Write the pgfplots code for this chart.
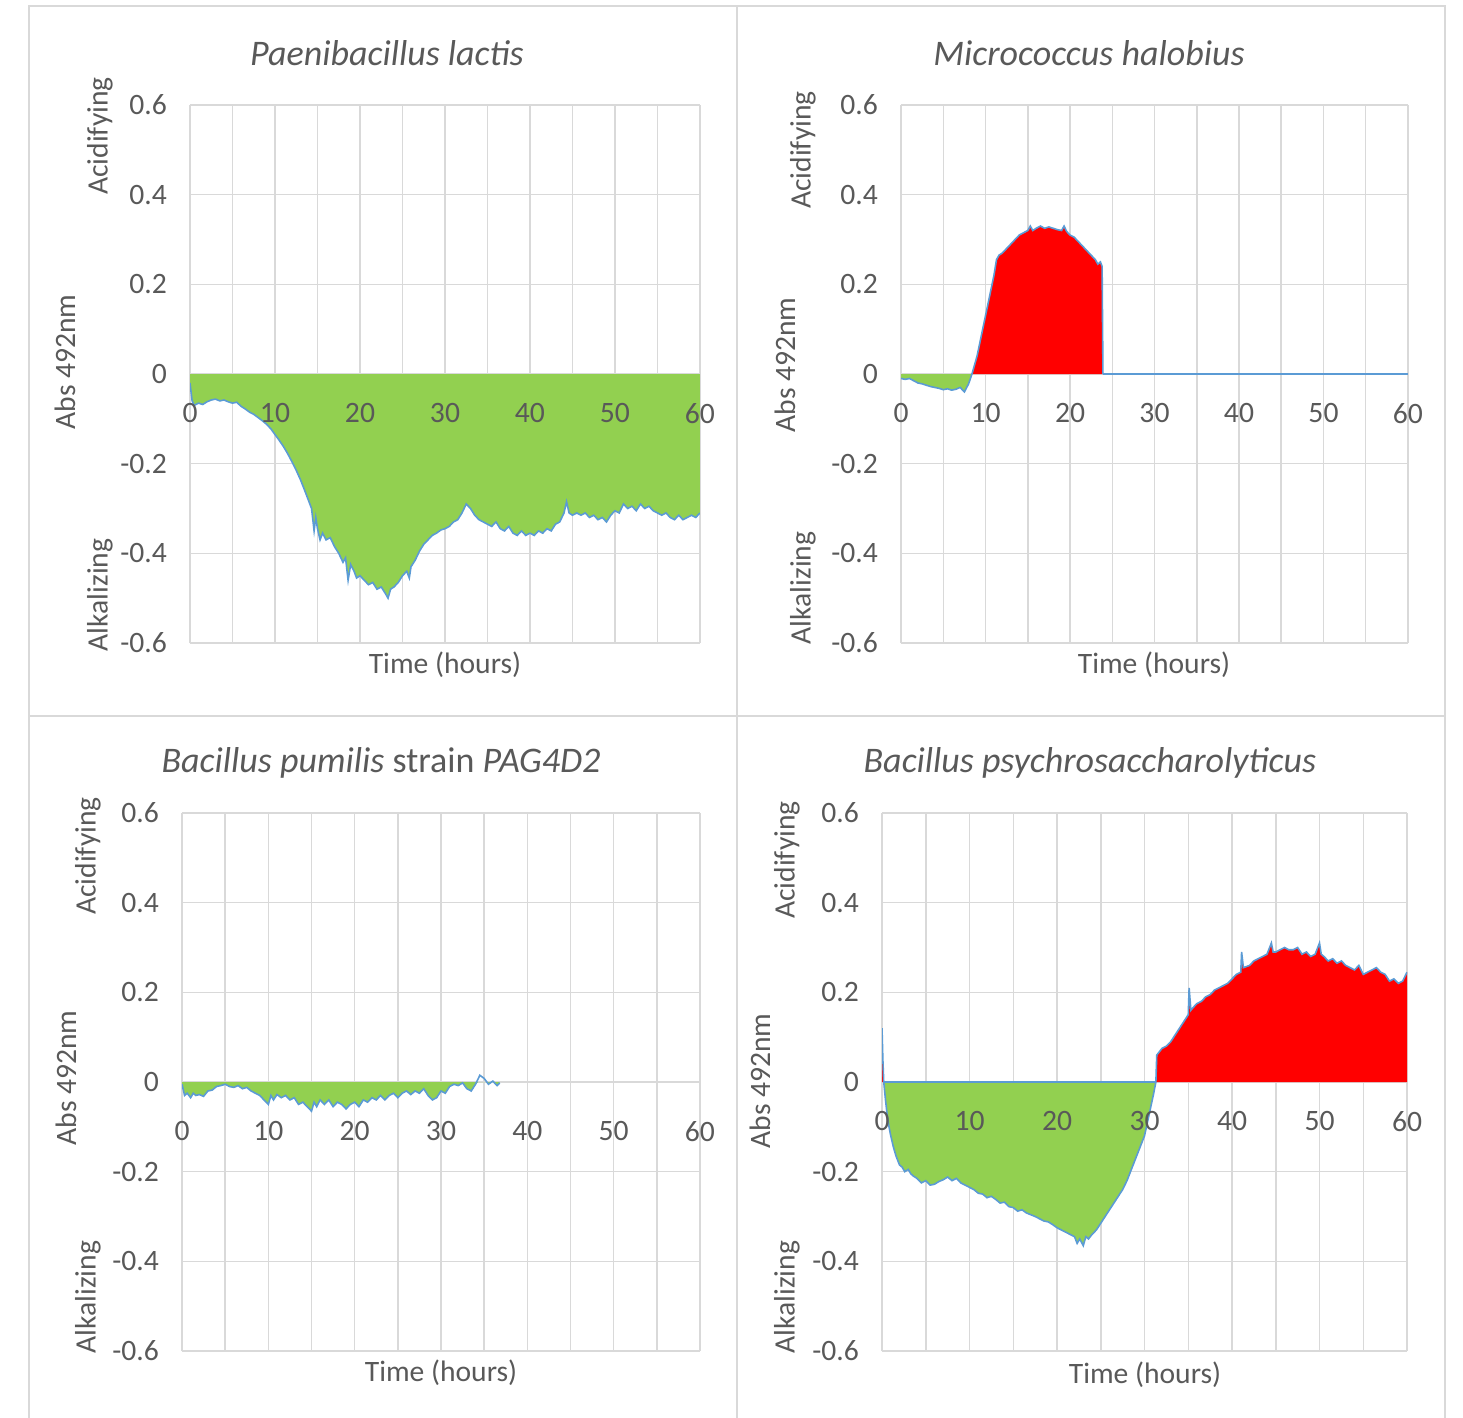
\documentclass[border=0pt]{standalone}
\usepackage{pgfplots}
\usepackage{pgfplotstable}
\pgfplotsset{compat=1.18}
\usepackage{fontspec}
\setmainfont{Carlito}
\definecolor{txt}{HTML}{595959}
\definecolor{grd}{HTML}{D9D9D9}
\definecolor{frm}{HTML}{D9D9D9}
\definecolor{grn}{HTML}{92D050}
\definecolor{rd}{HTML}{FF0000}
\definecolor{ln}{HTML}{5B9BD5}

\pgfplotstableread{
x y
0 -0.02
0.25 -0.06
0.5 -0.07
1 -0.065
1.5 -0.068
2 -0.062
2.5 -0.058
3 -0.056
3.5 -0.06
4 -0.058
4.5 -0.062
5 -0.065
5.5 -0.063
6 -0.072
6.5 -0.078
7 -0.085
7.5 -0.09
8 -0.097
8.5 -0.104
9 -0.112
9.5 -0.122
10 -0.135
10.5 -0.148
11 -0.162
11.5 -0.178
12 -0.196
12.5 -0.215
13 -0.236
13.5 -0.26
14 -0.285
14.3 -0.3
14.6 -0.35
14.8 -0.32
15 -0.345
15.3 -0.37
15.6 -0.355
16 -0.37
16.5 -0.365
17 -0.385
17.5 -0.4
18 -0.42
18.3 -0.41
18.6 -0.46
18.9 -0.425
19.3 -0.44
19.6 -0.455
20 -0.45
20.5 -0.46
21 -0.47
21.5 -0.465
22 -0.48
22.5 -0.475
23 -0.49
23.3 -0.5
23.6 -0.48
24 -0.475
24.5 -0.465
25 -0.45
25.5 -0.44
25.8 -0.455
26 -0.43
26.5 -0.415
27 -0.395
27.5 -0.38
28 -0.37
28.5 -0.36
29 -0.355
29.5 -0.348
30 -0.345
30.5 -0.34
31 -0.33
31.5 -0.325
32 -0.31
32.5 -0.29
33 -0.3
33.5 -0.315
34 -0.325
34.5 -0.33
35 -0.335
35.5 -0.34
36 -0.33
36.5 -0.345
37 -0.35
37.5 -0.34
38 -0.355
38.5 -0.36
39 -0.35
39.5 -0.36
40 -0.355
40.5 -0.36
41 -0.35
41.5 -0.355
42 -0.345
42.5 -0.35
43 -0.335
43.5 -0.33
44 -0.31
44.3 -0.285
44.6 -0.31
45 -0.315
45.5 -0.31
46 -0.315
46.5 -0.31
47 -0.32
47.5 -0.315
48 -0.325
48.5 -0.32
49 -0.33
49.5 -0.315
50 -0.305
50.5 -0.31
51 -0.29
51.5 -0.3
52 -0.295
52.5 -0.305
53 -0.29
53.5 -0.3
54 -0.295
54.5 -0.305
55 -0.31
55.5 -0.315
56 -0.31
56.5 -0.32
57 -0.325
57.5 -0.315
58 -0.325
58.5 -0.32
59 -0.315
59.5 -0.32
60 -0.31
}\dataA

\pgfplotstableread{
x y
0 -0.01
0.5 -0.012
1 -0.01
1.5 -0.015
2 -0.02
2.5 -0.022
3 -0.025
3.5 -0.028
4 -0.03
4.5 -0.032
5 -0.035
5.5 -0.033
6 -0.036
6.5 -0.034
7 -0.03
7.5 -0.04
8 -0.022
8.4 0
}\dataBg

\pgfplotstableread{
x y
8.4 0
9 0.04
9.5 0.085
10 0.13
10.5 0.175
11 0.22
11.3 0.255
11.6 0.265
12 0.27
12.5 0.28
13 0.29
13.5 0.30
14 0.31
14.5 0.315
15 0.32
15.3 0.33
15.6 0.32
16 0.325
16.5 0.33
17 0.325
17.5 0.328
18 0.325
18.5 0.322
19 0.32
19.3 0.33
19.6 0.318
20 0.31
20.5 0.305
21 0.295
21.5 0.285
22 0.275
22.5 0.265
23 0.255
23.3 0.245
23.6 0.25
23.8 0.24
23.9 0
}\dataBr

\pgfplotstableread{
x y
0 -0.005
0.3 -0.03
0.6 -0.025
1 -0.035
1.3 -0.025
1.6 -0.03
2 -0.028
2.5 -0.032
3 -0.02
3.5 -0.018
4 -0.01
4.5 -0.008
5 -0.005
5.5 -0.01
6 -0.012
6.5 -0.008
7 -0.015
7.5 -0.012
8 -0.02
8.5 -0.025
9 -0.03
9.5 -0.04
10 -0.05
10.3 -0.03
10.6 -0.04
11 -0.028
11.5 -0.035
12 -0.03
12.5 -0.04
13 -0.035
13.5 -0.05
14 -0.045
14.5 -0.055
15 -0.065
15.3 -0.045
15.6 -0.055
16 -0.04
16.5 -0.05
17 -0.04
17.5 -0.055
18 -0.045
18.5 -0.05
19 -0.06
19.5 -0.05
20 -0.045
20.5 -0.055
21 -0.04
21.5 -0.045
22 -0.035
22.5 -0.04
23 -0.03
23.5 -0.04
24 -0.03
24.5 -0.025
25 -0.035
25.5 -0.025
26 -0.02
26.5 -0.028
27 -0.02
27.5 -0.025
28 -0.015
28.5 -0.03
29 -0.04
29.5 -0.035
30 -0.02
30.5 -0.025
31 -0.01
31.5 -0.005
32 -0.008
32.5 -0.002
33 -0.015
33.5 -0.02
34 -0.005
34.5 0.015
35 0.008
35.5 -0.005
36 0.002
36.5 -0.008
36.8 -0.002
}\dataC

\pgfplotstableread{
x y
0 -0.005
0.3 -0.03
0.6 -0.025
1 -0.035
1.3 -0.025
1.6 -0.03
2 -0.028
2.5 -0.032
3 -0.02
3.5 -0.018
4 -0.01
4.5 -0.008
5 -0.005
5.5 -0.01
6 -0.012
6.5 -0.008
7 -0.015
7.5 -0.012
8 -0.02
8.5 -0.025
9 -0.03
9.5 -0.04
10 -0.05
10.3 -0.03
10.6 -0.04
11 -0.028
11.5 -0.035
12 -0.03
12.5 -0.04
13 -0.035
13.5 -0.05
14 -0.045
14.5 -0.055
15 -0.065
15.3 -0.045
15.6 -0.055
16 -0.04
16.5 -0.05
17 -0.04
17.5 -0.055
18 -0.045
18.5 -0.05
19 -0.06
19.5 -0.05
20 -0.045
20.5 -0.055
21 -0.04
21.5 -0.045
22 -0.035
22.5 -0.04
23 -0.03
23.5 -0.04
24 -0.03
24.5 -0.025
25 -0.035
25.5 -0.025
26 -0.02
26.5 -0.028
27 -0.02
27.5 -0.025
28 -0.015
28.5 -0.03
29 -0.04
29.5 -0.035
30 -0.02
30.5 -0.025
31 -0.01
31.5 -0.005
32 -0.008
32.5 -0.002
33 -0.015
33.5 -0.02
34 -0.005
34.3 0
35.3 0
35.5 -0.005
35.8 0
36.2 0
36.5 -0.008
36.8 -0.002
}\dataCg

\pgfplotstableread{
x y
0 0.12
0.1 0.05
0.2 0
}\dataDs

\pgfplotstableread{
x y
0.2 0
0.4 -0.04
0.6 -0.075
0.8 -0.1
1 -0.12
1.3 -0.145
1.6 -0.165
2 -0.185
2.3 -0.19
2.6 -0.2
3 -0.195
3.3 -0.205
3.6 -0.21
4 -0.215
4.5 -0.225
5 -0.22
5.5 -0.23
6 -0.228
6.5 -0.222
7 -0.218
7.5 -0.212
8 -0.22
8.5 -0.215
9 -0.225
9.5 -0.23
10 -0.235
10.5 -0.24
11 -0.248
11.5 -0.25
12 -0.258
12.5 -0.255
13 -0.262
13.5 -0.27
14 -0.268
14.5 -0.278
15 -0.28
15.5 -0.288
16 -0.285
16.5 -0.292
17 -0.296
17.5 -0.3
18 -0.305
18.5 -0.31
19 -0.312
19.5 -0.318
20 -0.325
20.5 -0.33
21 -0.335
21.5 -0.34
22 -0.345
22.3 -0.36
22.6 -0.35
23 -0.365
23.3 -0.345
23.6 -0.35
24 -0.34
24.5 -0.33
25 -0.315
25.5 -0.3
26 -0.285
26.5 -0.27
27 -0.255
27.5 -0.24
28 -0.22
28.5 -0.195
29 -0.17
29.5 -0.145
30 -0.12
30.5 -0.075
31 -0.03
31.3 0
}\dataDg

\pgfplotstableread{
x y
31.3 0
31.4 0.06
32 0.075
32.5 0.08
33 0.09
33.5 0.105
34 0.12
34.5 0.135
35 0.15
35.1 0.21
35.3 0.16
35.5 0.165
36 0.175
36.5 0.18
37 0.19
37.5 0.195
38 0.205
38.5 0.21
39 0.215
39.5 0.22
40 0.23
40.5 0.24
41 0.245
41.1 0.29
41.3 0.255
42 0.26
42.5 0.27
43 0.275
43.5 0.28
44 0.285
44.5 0.31
44.7 0.29
45 0.29
45.5 0.295
46 0.3
46.5 0.295
47 0.295
47.5 0.3
48 0.285
48.5 0.29
49 0.28
49.5 0.285
50 0.31
50.2 0.285
50.5 0.28
51 0.27
51.5 0.275
52 0.265
52.5 0.27
53 0.26
53.5 0.255
54 0.25
54.5 0.26
55 0.24
55.5 0.245
56 0.25
56.5 0.255
57 0.245
57.5 0.24
58 0.225
58.5 0.23
59 0.22
59.5 0.225
60 0.245
}\dataDr

\newcommand{\lab}{\fontsize{14.8}{17}\selectfont}
\newcommand{\ttl}{\fontsize{18}{21}\selectfont\itshape}

\pgfplotsset{
 layers/labelsontop/.define layer set={
   axis background,axis grid,axis ticks,axis lines,pre main,main,axis tick labels,axis descriptions,axis foreground
 }{
   grid style={/pgfplots/on layer=axis grid},
   tick style={/pgfplots/on layer=axis ticks},
   axis line style={/pgfplots/on layer=axis lines},
   label style={/pgfplots/on layer=axis descriptions},
   legend style={/pgfplots/on layer=axis descriptions},
   title style={/pgfplots/on layer=axis descriptions},
   colorbar style={/pgfplots/on layer=axis descriptions},
   ticklabel style={/pgfplots/on layer=axis tick labels},
   axis background@ style={/pgfplots/on layer=axis background},
   3d box foreground style={/pgfplots/on layer=axis foreground},
 },
 panel/.style={
  set layers=labelsontop,
  scale only axis, height=269pt,
  xmin=0, xmax=60, ymin=-0.6, ymax=0.6,
  axis x line=middle, axis y line=left,
  hide obscured x ticks=false,
  hide obscured y ticks=false,
  axis line style={draw=none},
  major tick length=0pt, minor tick length=0pt,
  xtick={0,10,20,30,40,50,60},
  minor xtick={5,15,25,35,45,55},
  ytick={-0.6,-0.4,-0.2,0,0.2,0.4,0.6},
  grid=both,
  major grid style={draw=grd, line width=0.75pt},
  minor grid style={draw=grd, line width=0.75pt},
  tick label style={font=\lab, text=txt},
  /pgf/number format/assume math mode=true,
  yticklabel style={/pgf/number format/fixed, /pgf/number format/precision=1, xshift=-8pt},
  xticklabel style={yshift=-11pt},
 },
 myarea/.style={draw=none, fill=#1},
 mycurve/.style={draw=ln, line width=0.8pt, mark=none},
}

\begin{document}
\begin{tikzpicture}
% frames
\begin{scope}[x=0.5pt,y=-0.5pt, draw=frm, line width=0.8pt]
\draw (29,1418) -- (29,6) -- (1445,6) -- (1445,1418);
\draw (737,6) -- (737,1418);
\draw (29,716) -- (1445,716);
\end{scope}

% Panel 1
\begin{axis}[panel, width=255pt, at={(95pt,-321.5pt)}, anchor=south west]
\addplot[myarea=grn] table {\dataA} \closedcycle;
\addplot[mycurve] table {\dataA};
\end{axis}

% Panel 2
\begin{axis}[panel, width=253.5pt, at={(450.5pt,-321.5pt)}, anchor=south west]
\addplot[myarea=grn] table {\dataBg} \closedcycle;
\addplot[myarea=rd] table {\dataBr} \closedcycle;
\addplot[mycurve] table {\dataBg};
\addplot[mycurve] table {\dataBr};
\addplot[mycurve] coordinates {(23.9,0) (60,0)};
\end{axis}

% Panel 3
\begin{axis}[panel, width=259pt, at={(91pt,-675.5pt)}, anchor=south west, xticklabel style={yshift=-5pt}]
\addplot[myarea=grn] table {\dataCg} \closedcycle;
\addplot[mycurve] table {\dataC};
\end{axis}

% Panel 4
\begin{axis}[panel, width=262.5pt, at={(441pt,-675.5pt)}, anchor=south west]
\addplot[myarea=rd] table {\dataDs} \closedcycle;
\addplot[myarea=grn] table {\dataDg} \closedcycle;
\addplot[myarea=rd] table {\dataDr} \closedcycle;
\addplot[mycurve] table {\dataDs};
\addplot[mycurve] table {\dataDg};
\addplot[mycurve] table {\dataDr};
\addplot[mycurve] coordinates {(0.2,0) (31.3,0)};
\end{axis}

% texts
\begin{scope}[x=0.5pt,y=-0.5pt, every node/.append style={text=txt}]
\node[font=\ttl] at (387,53) {Paenibacillus lactis};
\node[font=\ttl] at (1089,53) {Micrococcus halobius};
\node[font=\ttl] at (381,763) {Bacillus pumilis \textup{strain} PAG4D2};
\node[font=\ttl] at (1090,763) {Bacillus psychrosaccharolyticus};

\node[font=\lab] at (445,665) {Time (hours)};
\node[font=\lab] at (1154,665) {Time (hours)};
\node[font=\lab] at (441,1373) {Time (hours)};
\node[font=\lab] at (1145,1375) {Time (hours)};

\node[font=\lab, rotate=90] at (65,362) {Abs 492nm};
\node[font=\lab, rotate=90] at (100,136) {Acidifying};
\node[font=\lab, rotate=90] at (100,595) {Alkalizing};
\node[font=\lab, rotate=90] at (785,365) {Abs 492nm};
\node[font=\lab, rotate=90] at (803,150) {Acidifying};
\node[font=\lab, rotate=90] at (803,588) {Alkalizing};
\node[font=\lab, rotate=90] at (66,1078) {Abs 492nm};
\node[font=\lab, rotate=90] at (88,856) {Acidifying};
\node[font=\lab, rotate=90] at (88,1297) {Alkalizing};
\node[font=\lab, rotate=90] at (760,1081) {Abs 492nm};
\node[font=\lab, rotate=90] at (787,860) {Acidifying};
\node[font=\lab, rotate=90] at (787,1297) {Alkalizing};
\end{scope}
\pgfresetboundingbox
\useasboundingbox (0,0) rectangle (731.5pt,-709pt);
\end{tikzpicture}
\end{document}
